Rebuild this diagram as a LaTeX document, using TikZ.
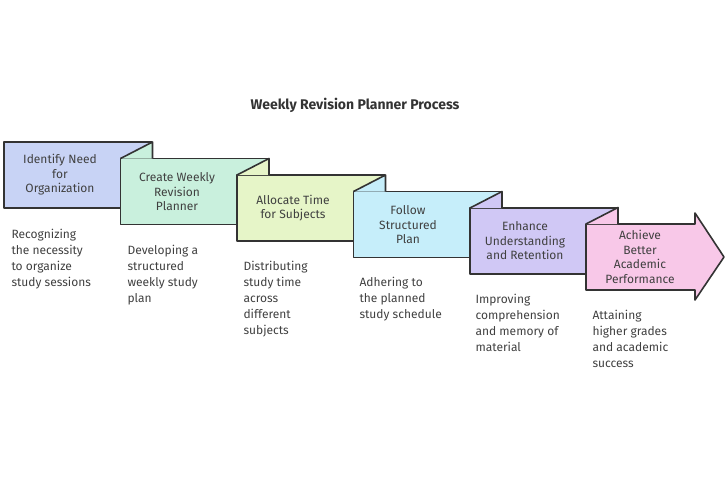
\documentclass[tikz,border=0pt]{standalone}
\usepackage{fontspec}
\setmainfont{Fira Sans}
\begin{document}
\begin{tikzpicture}[x=1pt,y=-1pt,
  box/.style={draw=black!80,line width=1.6pt,line join=round},
  lbl/.style={align=center,font=\fontsize{12}{14.5}\selectfont,text=black!75},
  desc/.style={anchor=north west,align=left,font=\fontsize{12}{16}\selectfont,text=black!75}]
\useasboundingbox (0,0) rectangle (728,485);
\node[font=\bfseries\fontsize{14}{16}\selectfont,text=black!80] (title) at (355,105) {Weekly Revision Planner Process};
\definecolor{c1}{HTML}{C8D3F5}\definecolor{c2}{HTML}{C9F0DD}\definecolor{c3}{HTML}{E6F5C8}
\definecolor{c4}{HTML}{C6EEFA}\definecolor{c5}{HTML}{D0C8F5}\definecolor{c6}{HTML}{F8C8E8}
\foreach \i/\c in {0/c1,1/c2,2/c3,3/c4,4/c5}{
  \pgfmathsetmacro\X{4+116.5*\i}\pgfmathsetmacro\Y{142+16.5*\i}
  \draw[box,fill=\c] (\X,\Y) rectangle (\X+148,\Y+66);
  \ifnum\i>0 \draw[box,fill=\c] (\X,\Y) -- (\X+32,\Y-16.5) -- (\X+32,\Y);\fi
}
\draw[box,fill=c6] (586,224) -- (695,224) -- (695,213) -- (724,257) -- (695,300) -- (695,290) -- (586,290) -- cycle;
\draw[box,fill=c6] (586,224) -- (618,207.5) -- (618,224);
\node[lbl] (n1) at (60,175) {Identify Need\\for\\Organization};
\node[lbl] (n2) at (177,192) {Create Weekly\\Revision\\Planner};
\node[lbl] (n3) at (293,208) {Allocate Time\\for Subjects};
\node[lbl] (n4) at (408,225) {Follow\\Structured\\Plan};
\node[lbl] (n5) at (525,241) {Enhance\\Understanding\\and Retention};
\node[lbl] (n6) at (640,257) {Achieve\\Better\\Academic\\Performance};
\node[desc] (d1) at (8,226) {Recognizing\\the necessity\\to organize\\study sessions};
\node[desc] (d2) at (124,242) {Developing a\\structured\\weekly study\\plan};
\node[desc] (d3) at (240,258) {Distributing\\study time\\across\\different\\subjects};
\node[desc] (d4) at (356,274) {Adhering to\\the planned\\study schedule};
\node[desc] (d5) at (472,291) {Improving\\comprehension\\and memory of\\material};
\node[desc] (d6) at (589,307) {Attaining\\higher grades\\and academic\\success};
\end{tikzpicture}
\end{document}
